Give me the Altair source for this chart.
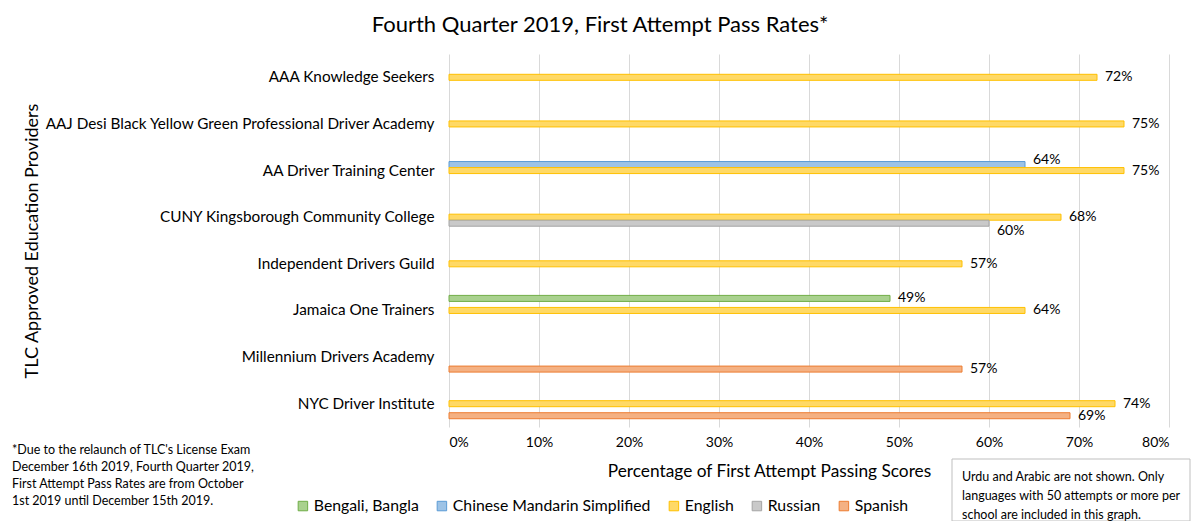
import altair as alt
import pandas as pd

categories = [
    "AAA Knowledge Seekers",
    "AAJ Desi Black Yellow Green Professional Driver Academy",
    "AA Driver Training Center",
    "CUNY Kingsborough Community College",
    "Independent Drivers Guild",
    "Jamaica One Trainers",
    "Millennium Drivers Academy",
    "NYC Driver Institute",
]
langs = ["Bengali, Bangla", "Chinese Mandarin Simplified", "English", "Russian", "Spanish"]
bengali = [None, None, None, None, None, 49, None, None]
chinese = [None, None, 64, None, None, None, None, None]
english = [72, 75, 75, 68, 57, 64, None, 74]
russian = [None, None, None, 60, None, None, None, None]
spanish = [None, None, None, None, None, None, 57, 69]
fills = ["#A9D18E", "#9DC3E6", "#FFD966", "#C9C9C9", "#F4B183"]
strokes = ["#70AD47", "#5B9BD5", "#FFC000", "#A5A5A5", "#ED7D31"]

title_text = "Fourth Quarter 2019, First Attempt Pass Rates*"
note_left = ("*Due to the relaunch of TLC's License Exam\nDecember 16th 2019, Fourth Quarter 2019,\n"
             "First Attempt Pass Rates are from October\n1st 2019 until December 15th 2019.")
note_right = ("Urdu and Arabic are not shown. Only\nlanguages with 50 attempts or more per\n"
              "school are included in this graph.")

rows = []
for lang, series in zip(langs, [bengali, chinese, english, russian, spanish]):
    for cat, v in zip(categories, series):
        if v is not None:
            rows.append({"school": cat, "lang": lang, "value": v, "label": f"{v}%"})
df = pd.DataFrame(rows)

FONT = "Lato"
NOTE_FONT = "Lato"

y_enc = alt.Y(
    "school:N",
    sort=categories,
    scale=alt.Scale(domain=categories, paddingInner=0.355, paddingOuter=0.1775),
    axis=alt.Axis(
        title="TLC Approved Education Providers",
        titleFont=FONT, titleFontSize=18, titleFontWeight="normal", titleColor="#000000",
        titleX=-417, titleY=186.5, titleAngle=270, titleAlign="center", titleBaseline="middle",
        labelFont=FONT, labelFontSize=15.3, labelColor="#000000", labelPadding=15, labelLimit=600,
        ticks=False, domain=False, grid=False,
    ),
)
yoff = alt.YOffset("lang:N", scale=alt.Scale(domain=langs, paddingInner=0, paddingOuter=0))
x_enc = alt.X(
    "value:Q",
    scale=alt.Scale(domain=[0, 80], nice=False),
    axis=alt.Axis(
        values=[0, 10, 20, 30, 40, 50, 60, 70, 80],
        labelExpr="datum.value + '%'",
        title="Percentage of First Attempt Passing Scores",
        titleFont=FONT, titleFontSize=17.3, titleFontWeight="normal", titleColor="#000000",
        titleX=320, titleY=44, titleAlign="center", titleBaseline="middle",
        labelFont=FONT, labelFontSize=14, labelColor="#000000", labelPadding=8,
        ticks=False, domain=False, grid=True, gridColor="#D9D9D9", gridWidth=1,
    ),
)

legend = alt.Legend(title=None, orient="none", legendX=-154, legendY=444,
                    direction="horizontal", symbolType="square", symbolSize=90,
                    symbolStrokeWidth=1, symbolOpacity=1,
                    labelFont=FONT, labelFontSize=15.8,
                    labelColor="#000000", labelOffset=3, columnPadding=15,
                    labelLimit=400)

base = alt.Chart(df)

bars = base.mark_bar(strokeWidth=1, orient="horizontal").encode(
    x=x_enc,
    y=y_enc,
    yOffset=yoff,
    fill=alt.Fill("lang:N", scale=alt.Scale(domain=langs, range=fills), legend=legend),
    stroke=alt.Stroke("lang:N", scale=alt.Scale(domain=langs, range=strokes), legend=legend),
)

def labels(filt, dy):
    return base.transform_filter(filt).mark_text(
        align="left", baseline="middle", dx=8, dy=dy, font=FONT, fontSize=14, color="#000000"
    ).encode(x="value:Q", y=alt.Y("school:N", sort=categories), yOffset="lang:N", text="label:N")

lab_main = labels("datum.lang != 'Chinese Mandarin Simplified' && datum.lang != 'Russian'", 0)
lab_cn = labels("datum.lang == 'Chinese Mandarin Simplified'", -5)
lab_ru = labels("datum.lang == 'Russian'", 8)

one = pd.DataFrame({"k": [0]})
title = alt.Chart(one).mark_text(
    align="center", baseline="middle", font=FONT, fontSize=22, color="#000000"
).encode(x=alt.value(151), y=alt.value(-29), text=alt.value(title_text))

note1 = alt.Chart(one).mark_text(
    align="left", baseline="middle", font=NOTE_FONT, fontSize=12.5, color="#000000",
    lineBreak="\n", lineHeight=17
).encode(x=alt.value(-437), y=alt.value(396), text=alt.value(note_left))

box = alt.Chart(one).mark_rect(fill="#FFFFFF", stroke="#BFBFBF", strokeWidth=1).encode(
    x=alt.value(503), x2=alt.value(741), y=alt.value(405), y2=alt.value(467)
)
note2 = alt.Chart(one).mark_text(
    align="left", baseline="middle", font=NOTE_FONT, fontSize=12.5, color="#000000",
    lineBreak="\n", lineHeight=19
).encode(x=alt.value(513), y=alt.value(423), text=alt.value(note_right))

chart = alt.layer(bars, lab_main, lab_cn, lab_ru, title, note1, box, note2).properties(
    width=720, height=373,
    autosize=alt.AutoSizeParams(type="none"),
    padding={"left": 441, "top": 46, "right": 23, "bottom": 94},
    background="#FFFFFF",
).configure_view(stroke=None)

chart.save("out.html", embed_options={"renderer": "svg", "actions": False})
